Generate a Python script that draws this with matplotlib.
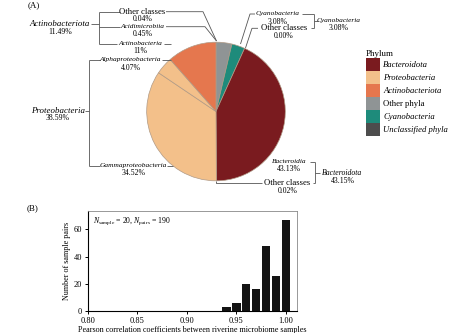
import numpy as np
import matplotlib
matplotlib.use("Agg")
import matplotlib.pyplot as plt
from matplotlib.patches import Patch

plt.rcParams['font.family'] = ['Liberation Serif', 'DejaVu Serif']
plt.rcParams['mathtext.fontset'] = 'custom'
plt.rcParams['mathtext.rm'] = 'Liberation Serif'
plt.rcParams['mathtext.it'] = 'Liberation Serif:italic'

# --- data (A) ---
phyla = ['Bacteroidota', 'Proteobacteria', 'Actinobacteriota',
         'Other phyla', 'Cyanobacteria', 'Unclassified phyla']
phylum_pct = [43.15, 38.59, 11.49, 3.69, 3.08, 0.0]
phylum_colors = ['#7a1b1f', '#f3c08a', '#e5774e', '#8f9495', '#1e8b7b', '#4d4d4d']
italic_phyla = [True, True, True, False, True, True]

# wedges clockwise from 12 o'clock (Proteobacteria split into its classes)
wedge_names = ['Other phyla', 'Cyanobacteria', 'Bacteroidota',
               'Gammaproteobacteria', 'Alphaproteobacteria', 'Actinobacteriota']
wedge_pct = [3.69, 3.08, 43.15, 34.52, 4.07, 11.49]
wedge_colors = ['#8f9495', '#1e8b7b', '#7a1b1f', '#f3c08a', '#f3c08a', '#e5774e']

# --- data (B) ---
r_centers = [0.94, 0.95, 0.96, 0.97, 0.98, 0.99, 1.00]
pair_counts = [3, 6, 20, 16, 48, 26, 67]
xticks = [0.80, 0.85, 0.90, 0.95, 1.00]
yticks = [0, 20, 40, 60]

W, H = 474, 333
fig = plt.figure(figsize=(W / 100, H / 100), dpi=100)

def px(x, y, w, h):
    return [x / W, 1 - (y + h) / H, w / W, h / H]

# pie
ax = fig.add_axes(px(146, 41.5, 140, 140))
ax.pie(wedge_pct, colors=wedge_colors, startangle=90, counterclock=False,
       wedgeprops=dict(edgecolor='#b09a86', linewidth=0.5))
ax.set_xlim(-1.01, 1.01)
ax.set_ylim(-1.01, 1.01)
ax.set_aspect('equal')
ax.axis('off')

# overlay in pixel coordinates for labels and brackets
ov = fig.add_axes([0, 0, 1, 1])
ov.set_xlim(0, W)
ov.set_ylim(H, 0)
ov.axis('off')
ov.patch.set_visible(False)

lc = '#555555'
lw = 0.6

def line(xs, ys):
    ov.plot(xs, ys, color=lc, lw=lw, solid_capstyle='butt')

def label(x, y, name, pct, italic=True, size=5.6):
    ov.text(x, y, name, ha='center', va='center', fontsize=size,
            style='italic' if italic else 'normal')
    ov.text(x, y + 7.5, pct, ha='center', va='center', fontsize=5.6)

ov.text(28, 5, '(A)', ha='left', va='center', fontsize=6.5)
ov.text(27, 208, '(B)', ha='left', va='center', fontsize=6.5)

# Actinobacteriota
label(60, 24, 'Actinobacteriota', '11.49%', size=6.4)
line([91, 99.5], [24, 24])
line([99.5, 99.5], [11.7, 43.7])
line([99.5, 120], [11.7, 11.7])
line([99.5, 120], [26.7, 26.7])
line([99.5, 117], [43.7, 43.7])
label(142.5, 11.7, 'Other classes', '0.04%', italic=False, size=6.2)
label(142.5, 26.7, 'Acidimicrobiia', '0.45%', size=5.3)
label(140.5, 43.7, 'Actinobacteria', '11%', size=5.3)
line([166, 203, 216.5], [11.7, 11.7, 41])
line([166, 205, 216.5], [26.7, 26.7, 41])
line([164, 171], [43.7, 43.7])

# Proteobacteria
label(58, 110.7, 'Proteobacteria', '38.59%', size=6.4)
line([85.5, 89.5], [110.7, 110.7])
line([89.5, 89.5], [60, 165.7])
line([89.5, 100], [60, 60])
line([89.5, 100], [165.7, 165.7])
label(130.5, 60, 'Alphaproteobacteria', '4.07%', size=5.3)
line([162, 171], [60, 60])
label(133.5, 165.7, 'Gammaproteobacteria', '34.52%', size=5.3)
line([167.5, 173], [165.7, 165.7])

# Cyanobacteria
label(278, 14, 'Cyanobacteria', '3.08%', size=5.3)
label(284, 28.3, 'Other classes', '0.00%', italic=False, size=6.2)
line([255, 250, 240.5], [14, 14, 44])
line([258, 252, 245.5], [28.3, 28.3, 48])
line([302.5, 314.5], [14, 14])
line([311.5, 314.5], [28.3, 28.3])
line([314.5, 314.5], [14, 28.3])
line([314.5, 318], [20.7, 20.7])
label(339, 20.7, 'Cyanobacteria', '3.08%', size=5.3)

# Bacteroidota
label(289, 161.7, 'Bacteroidia', '43.13%', size=5.3)
label(287.5, 183.3, 'Other classes', '0.02%', italic=False, size=6.2)
line([216, 216, 262], [181, 183.3, 183.3])
line([310, 315], [161.7, 161.7])
line([313, 315], [183.3, 183.3])
line([315, 315], [161.7, 183.3])
line([315, 320], [173.3, 173.3])
label(342.5, 173.3, 'Bacteroidota', '43.15%', size=5.6)

# legend
handles = [Patch(facecolor=c, edgecolor='none') for c in phylum_colors]
leg = fig.legend(handles, phyla, loc='upper left',
                 bbox_to_anchor=(366 / W, 1 - 50 / H), frameon=False,
                 fontsize=6.2, title='Phylum', title_fontsize=6.4,
                 alignment='left', handlelength=1.6, handleheight=1.95,
                 handletextpad=0.4, labelspacing=0.0, borderpad=0.0,
                 borderaxespad=0.0)
for t, it in zip(leg.get_texts(), italic_phyla):
    t.set_style('italic' if it else 'normal')

# histogram
axh = fig.add_axes(px(87.7, 210.7, 209.6, 100.3))
axh.bar(r_centers, pair_counts, width=0.0085, color='#141414')
axh.set_xlim(0.80, 1.0115)
axh.set_ylim(0, 73.7)
axh.set_xticks(xticks)
axh.set_xticklabels([f'{v:.2f}' for v in xticks])
axh.set_yticks(yticks)
axh.tick_params(labelsize=6, length=2.5, width=0.7, pad=1.5, direction='out')
for s in ['top', 'right']:
    axh.spines[s].set_color('#888888')
    axh.spines[s].set_linewidth(0.6)
for s in ['left', 'bottom']:
    axh.spines[s].set_linewidth(0.8)
axh.set_xlabel('Pearson correlation coefficients between riverine microbiome samples',
               fontsize=5.9, labelpad=1)
axh.set_ylabel('Number of sample pairs', fontsize=5.9, labelpad=2)
axh.text(0.027, 0.9, r'$N_{\rm sample}$ = 20, $N_{\rm pairs}$ = 190',
         transform=axh.transAxes, fontsize=5.6, ha='left', va='center')

fig.savefig('out.png', dpi=100)
